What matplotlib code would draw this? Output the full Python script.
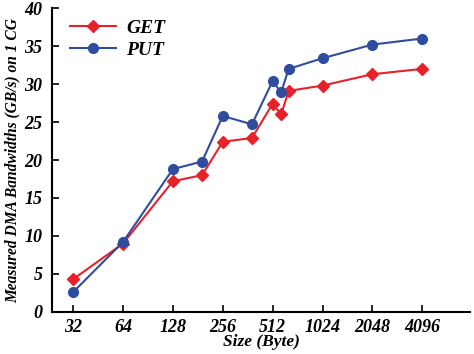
import matplotlib.pyplot as plt
import numpy as np

sizes = [32, 64, 128, 192, 256, 384, 512, 576, 640, 1024, 2048, 4096]
get_bw = [4.3, 9.0, 17.2, 18.0, 22.4, 22.9, 27.4, 26.0, 29.1, 29.8, 31.3, 32.0]
put_bw = [2.6, 9.2, 18.8, 19.8, 25.8, 24.7, 30.4, 28.9, 32.0, 33.4, 35.2, 36.0]
xticks = [32, 64, 128, 256, 512, 1024, 2048, 4096]

plt.rcParams['font.family'] = ['Liberation Serif', 'DejaVu Serif']

fig = plt.figure(figsize=(4.74, 3.54), dpi=100)
ax = fig.add_axes([0.110, 0.119, 0.882, 0.858])

ax.plot(sizes, get_bw, color='#e8202a', marker='D', markersize=6, lw=1.5, label='GET')
ax.plot(sizes, put_bw, color='#2f4c9f', marker='o', markersize=7, lw=1.5, label='PUT')

ax.set_xscale('log', base=2)
ax.set_xlim(23.9, 7975)
ax.set_ylim(0, 40)
ax.set_xticks(xticks)
ax.set_xticklabels([str(t) for t in xticks])
ax.minorticks_off()
ax.set_yticks(np.arange(0, 41, 5))

for s in ['top', 'right']:
    ax.spines[s].set_visible(False)
for s in ['left', 'bottom']:
    ax.spines[s].set_linewidth(1.5)
ax.tick_params(direction='in', length=5, width=1.2, labelsize=13)
ax.tick_params(axis='y', pad=7)
ax.tick_params(axis='x', pad=5)
for lab in ax.get_xticklabels() + ax.get_yticklabels():
    lab.set_fontweight('bold')
    lab.set_fontstyle('italic')

ax.set_xlabel('Size (Byte)', fontsize=12.5, fontweight='bold', fontstyle='italic', labelpad=-1)
ax.set_ylabel('Measured DMA Bandwidths (GB/s) on 1 CG', fontsize=11.2,
              fontweight='bold', fontstyle='italic', labelpad=3)

leg = ax.legend(loc='upper left', frameon=False, bbox_to_anchor=(0.0, 1.02),
                prop={'weight': 'bold', 'style': 'italic', 'size': 14},
                handlelength=2.4, labelspacing=0.2, handletextpad=0.5)

fig.savefig('out.png', dpi=100)
